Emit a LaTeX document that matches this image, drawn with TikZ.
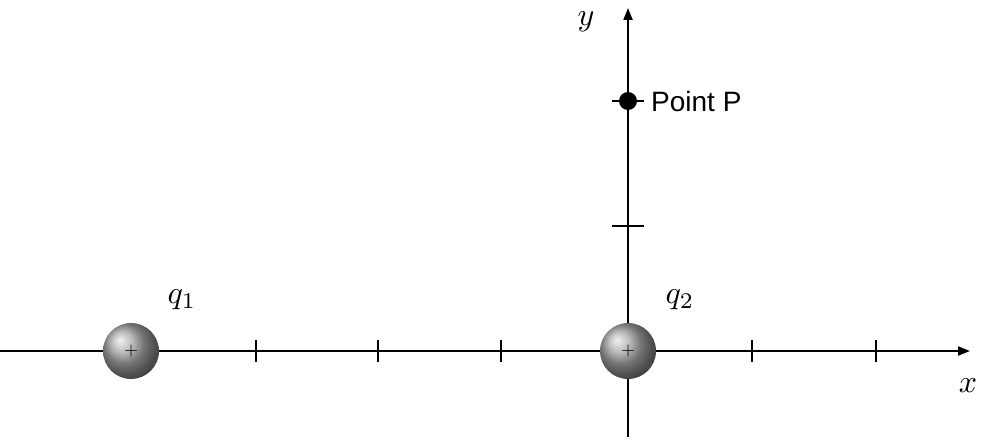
\documentclass[tikz,border=0pt]{standalone}
\usepackage{fontspec}
\newfontfamily\lsans{Liberation Sans}
\usetikzlibrary{arrows.meta}
\begin{document}
\begin{tikzpicture}[x=1pt,y=-1pt,
  axis/.style={line width=2pt,-{Triangle[length=12pt,width=9pt]}},
  tick/.style={line width=2pt},
  charge/.style={circle,minimum size=56pt,inner sep=0pt,ball color=gray!70,shading=ball},
  mlabel/.style={scale=3.2}]
\useasboundingbox (0,0) rectangle (987,444);
\coordinate (xs) at (0,351);
\coordinate (xe) at (970,351);
\coordinate (ys) at (628,437);
\coordinate (ye) at (628,8);
\draw[axis] (xs) -- (xe);
\draw[axis] (ys) -- (ye);
\foreach \x in {256,378,501,752,876} \draw[tick] (\x,340) -- (\x,362);
\draw[tick] (612,226) -- (644,226);
\draw[tick] (612,101) -- (644,101);
\node[circle,fill=black,minimum size=18pt,inner sep=0pt] (P) at (628,101) {};
\node[anchor=west,font=\lsans\fontsize{28}{28}\selectfont,inner sep=0pt] (Pl) at (651,101) {Point P};
\node[charge] (q1) at (131,351) {};
\node[charge] (q2) at (628,351) {};
\node[scale=1.8] (p1) at (q1) {$+$};
\node[scale=1.8] (p2) at (q2) {$+$};
\node[mlabel] (l1) at (182,300) {$q_1$};
\node[mlabel] (l2) at (680,300) {$q_2$};
\node[mlabel] (lx) at (968,386) {$x$};
\node[mlabel] (ly) at (586,22) {$y$};
\end{tikzpicture}
\end{document}
